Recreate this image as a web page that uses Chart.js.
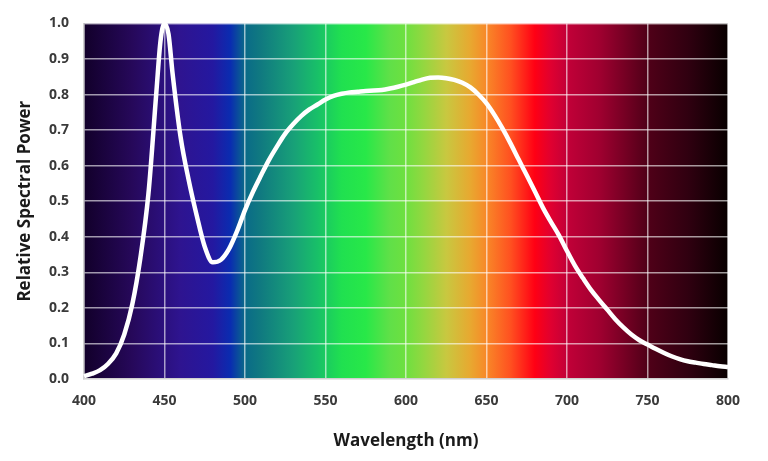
<!DOCTYPE html>
<html>
<head>
<meta charset="utf-8">
<script src="https://cdn.jsdelivr.net/npm/chart.js@4/dist/chart.umd.min.js"></script>
<style>
  html, body { margin: 0; padding: 0; background: #fff; }
  #wrap { width: 768px; height: 461px; }
</style>
</head>
<body>
<div id="wrap"><canvas id="spd" width="768" height="461"></canvas></div>
<script>
// wavelength in nm
const wavelengths = [400, 405, 410, 415, 420, 425, 430, 435, 440, 445, 447.5, 450, 452.5, 455, 460, 465, 470, 475, 480, 485,
  490, 495, 500, 505, 510, 515, 520, 525, 530, 535, 540, 545, 550, 555, 560, 565, 570, 575, 580, 585,
  590, 595, 600, 605, 610, 615, 620, 625, 630, 635, 640, 645, 650, 655, 660, 665, 670, 675, 680, 685,
  690, 695, 700, 705, 710, 715, 720, 725, 730, 735, 740, 745, 750, 755, 760, 765, 770, 775, 780, 785,
  790, 795, 800];
const power = [0.008, 0.015, 0.025, 0.043, 0.072, 0.125, 0.21, 0.34, 0.52, 0.81, 0.95, 1.0, 0.97, 0.86, 0.68, 0.56, 0.46, 0.372, 0.328, 0.335,
  0.365, 0.415, 0.475, 0.527, 0.573, 0.617, 0.655, 0.69, 0.717, 0.74, 0.758, 0.772, 0.786, 0.796, 0.802, 0.806, 0.808, 0.810, 0.811, 0.813,
  0.817, 0.822, 0.828, 0.835, 0.842, 0.847, 0.848, 0.846, 0.841, 0.833, 0.820, 0.800, 0.775, 0.742, 0.704, 0.662, 0.617, 0.573, 0.528, 0.482,
  0.442, 0.404, 0.360, 0.318, 0.283, 0.250, 0.222, 0.195, 0.168, 0.145, 0.125, 0.109, 0.097, 0.085, 0.074, 0.064, 0.056, 0.050, 0.046, 0.042,
  0.039, 0.036, 0.034];

const xTicks = [400, 450, 500, 550, 600, 650, 700, 750, 800];
const yTicks = [0, 0.1, 0.2, 0.3, 0.4, 0.5, 0.6, 0.7, 0.8, 0.9, 1.0];

// background spectrum colours at given wavelengths
const specNm = [400, 430, 460, 480, 491, 500, 510, 530, 545, 560, 575, 590, 600, 610, 625, 640, 650, 665, 680, 690, 700, 720, 750, 775, 800];
const specCol = ['#12002a', '#26085a', '#2e1490', '#2418a0', '#0a2cb0', '#0a6a88', '#107a80', '#18a078', '#18c068', '#20e050', '#28e848', '#60e048',
  '#6ee040', '#90d840', '#c8c840', '#e8a830', '#f88828', '#ff5020', '#ff0014', '#e00030', '#c20038', '#a00030', '#500018', '#300010', '#080000'];

const spectrumBg = {
  id: 'spectrumBg',
  beforeDraw(chart) {
    const { ctx, chartArea: a, scales: { x } } = chart;
    const g = ctx.createLinearGradient(a.left, 0, a.right, 0);
    specNm.forEach((nm, i) => {
      const p = (x.getPixelForValue(nm) - a.left) / (a.right - a.left);
      g.addColorStop(Math.min(1, Math.max(0, p)), specCol[i]);
    });
    ctx.save();
    ctx.fillStyle = g;
    ctx.fillRect(a.left, a.top, a.right - a.left, a.bottom - a.top);
    ctx.restore();
  }
};

const font = "'Open Sans', 'Liberation Sans', sans-serif";

new Chart(document.getElementById('spd'), {
  type: 'line',
  data: {
    datasets: [{
      data: wavelengths.map((w, i) => ({ x: w, y: power[i] })),
      borderColor: '#ffffff',
      borderWidth: 4.5,
      pointRadius: 0,
      cubicInterpolationMode: 'monotone',
      fill: false
    }]
  },
  options: {
    responsive: false,
    animation: false,
    clip: false,
    layout: { padding: { left: 0, right: 40, top: 19, bottom: 0 } },
    plugins: { legend: { display: false }, tooltip: { enabled: false } },
    scales: {
      x: {
        type: 'linear',
        min: 400, max: 800,
        afterBuildTicks: s => { s.ticks = xTicks.map(v => ({ value: v })); },
        afterFit: s => { s.height = 82; },
        grid: { color: 'rgba(255,255,255,0.6)', lineWidth: 1.5, drawTicks: false },
        border: { color: '#d0d0d0', width: 1.5 },
        ticks: { padding: 14, color: '#3a3a3a', font: { family: font, size: 14, weight: 'bold' } },
        title: {
          display: true, text: 'Wavelength (nm)', color: '#1a1a1a',
          font: { family: font, size: 17, weight: 'bold' }, padding: { top: 0, bottom: 10 }
        }
      },
      y: {
        min: 0, max: 1,
        afterBuildTicks: s => { s.ticks = yTicks.map(v => ({ value: v })); },
        afterFit: s => { s.width = 84; },
        grid: { color: 'rgba(255,255,255,0.6)', lineWidth: 1.5, drawTicks: false },
        border: { color: '#d0d0d0', width: 1.5 },
        ticks: { padding: 15, color: '#3a3a3a', font: { family: font, size: 14, weight: 'bold' }, callback: v => v.toFixed(1) },
        title: {
          display: true, text: 'Relative Spectral Power', color: '#1a1a1a',
          font: { family: font, size: 17, weight: 'bold' }, padding: { top: 15, bottom: 0 }
        }
      }
    }
  },
  plugins: [spectrumBg]
});
</script>
</body>
</html>
